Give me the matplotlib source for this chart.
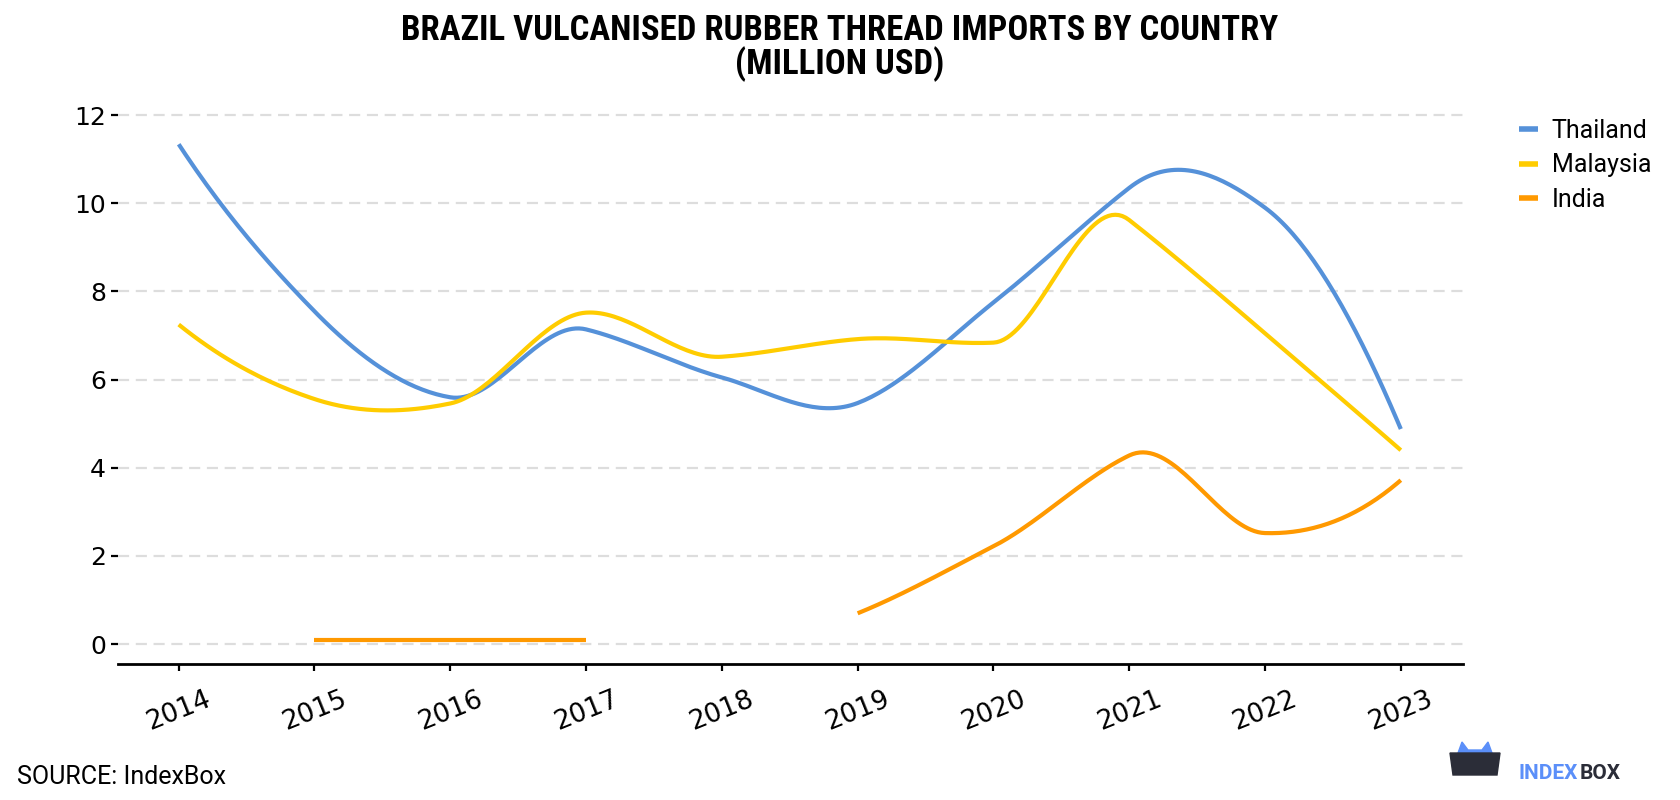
import numpy as np
import matplotlib
matplotlib.use("Agg")
import matplotlib.pyplot as plt
from matplotlib import font_manager
from matplotlib.patches import Polygon

years = [2014, 2015, 2016, 2017, 2018, 2019, 2020, 2021, 2022, 2023]
thailand = [11.34, 7.55, 5.6, 7.14, 6.05, 5.47, 7.75, 10.35, 9.9, 4.88]
malaysia = [7.25, 5.56, 5.46, 7.52, 6.52, 6.92, 6.84, 9.62, 7.05, 4.4]
# India has no data for 2014 and 2018
india = [None, 0.1, 0.1, 0.1, None, 0.7, 2.22, 4.28, 2.52, 3.72]

colors = {"Thailand": "#5591d9", "Malaysia": "#ffcc00", "India": "#ff9900"}


def akima(x, y, n=40):
    # akima spline through the points, sampled densely for drawing
    x = np.asarray(x, float)
    y = np.asarray(y, float)
    if len(x) < 2:
        return x, y
    m = np.diff(y) / np.diff(x)
    if len(m) == 1:
        m = np.r_[m, m]
    mm = np.r_[3 * m[0] - 2 * m[1], 2 * m[0] - m[1], m,
               2 * m[-1] - m[-2], 3 * m[-1] - 2 * m[-2]]
    t = np.zeros(len(x))
    for i in range(len(x)):
        m1, m2, m3, m4 = mm[i], mm[i + 1], mm[i + 2], mm[i + 3]
        w1, w2 = abs(m4 - m3), abs(m2 - m1)
        if w1 + w2 == 0:
            t[i] = (m2 + m3) / 2
        else:
            t[i] = (w1 * m2 + w2 * m3) / (w1 + w2)
    xs, ys = [], []
    for i in range(len(x) - 1):
        h = x[i + 1] - x[i]
        s = np.linspace(0, 1, n)
        h00 = 2 * s**3 - 3 * s**2 + 1
        h10 = s**3 - 2 * s**2 + s
        h01 = -2 * s**3 + 3 * s**2
        h11 = s**3 - s**2
        xs.append(x[i] + s * h)
        ys.append(h00 * y[i] + h10 * h * t[i] + h01 * y[i + 1] + h11 * h * t[i + 1])
    return np.concatenate(xs), np.concatenate(ys)


def segments(x, y):
    seg, out = [], []
    for a, b in zip(x, y):
        if b is None:
            if seg:
                out.append(seg)
            seg = []
        else:
            seg.append((a, b))
    if seg:
        out.append(seg)
    return out


names = {f.name for f in font_manager.fontManager.ttflist}
if "Roboto Condensed" in names:
    title_font, title_size = "Roboto Condensed", 25
elif "Liberation Sans Narrow" in names:
    title_font, title_size = "Liberation Sans Narrow", 24
else:
    title_font, title_size = "Roboto", 20

fig = plt.figure(figsize=(16.8, 8), dpi=100)
ax = fig.add_axes([0.07, 0.17, 0.801, 0.7026])

for name, vals in [("Thailand", thailand), ("Malaysia", malaysia), ("India", india)]:
    first = True
    for seg in segments(years, vals):
        sx, sy = zip(*seg)
        xs, ys = akima(sx, sy)
        ax.plot(xs, ys, color=colors[name], lw=3, solid_capstyle="butt",
                label=name if first else None)
        first = False

ax.set_xlim(2013.55, 2023.46)
ax.set_ylim(-0.45, 12.3)
ax.set_yticks([0, 2, 4, 6, 8, 10, 12])
ax.set_xticks(years)
ax.set_xticklabels([str(y) for y in years], rotation=22)
ax.grid(axis="y", color="#dddddd", lw=1.6, linestyle=(0, (5, 3)))
ax.set_axisbelow(True)
for s in ["top", "right", "left"]:
    ax.spines[s].set_visible(False)
ax.spines["bottom"].set_linewidth(2)
ax.tick_params(axis="both", labelsize=18, width=1.6, length=5, colors="black")
ax.tick_params(axis="x", labelsize=19, pad=11)

leg = ax.legend(loc="upper left", bbox_to_anchor=(1.025, 1.01), frameon=False,
                handlelength=0.75, handletextpad=0.55, labelspacing=0.42,
                prop={"family": "Roboto", "size": 18})
for line in leg.get_lines():
    line.set_linewidth(4)

fig.text(0.5, 0.962, "BRAZIL VULCANISED RUBBER THREAD IMPORTS BY COUNTRY",
         ha="center", va="center", fontsize=title_size, fontweight="bold",
         family=title_font)
fig.text(0.5, 0.92, "(MILLION USD)", ha="center", va="center",
         fontsize=title_size, fontweight="bold", family=title_font)

fig.text(0.01, 0.029, "SOURCE: IndexBox", ha="left", va="center", fontsize=18,
         family="Roboto")

# logo
icon = Polygon([(1450, 47), (1500, 47), (1497, 25), (1453, 25)], closed=True,
               transform=None, color="#2b2d38")
ears = Polygon([(1458, 47), (1462, 58), (1468, 50), (1482, 50), (1488, 58),
                (1492, 47), (1476, 40)], closed=True, transform=None,
               color="#5b8ff9")
fig.patches.extend([ears, icon])
t1 = fig.text(0.904, 0.033, "INDEX", ha="left", va="center", fontsize=15,
              fontweight="bold", color="#5b8ff9", family="Roboto")
fig.canvas.draw()
bb = t1.get_window_extent()
fig.text(bb.x1 / fig.bbox.width + 0.001, 0.033, "BOX", ha="left", va="center",
         fontsize=15, fontweight="bold", color="#2b2d38", family="Roboto")

fig.savefig("out.png", dpi=100)
